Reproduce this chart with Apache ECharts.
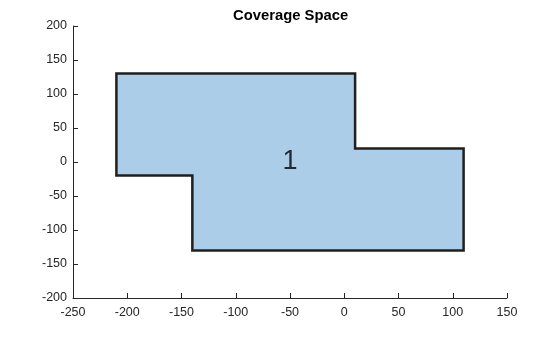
<!DOCTYPE html>
<html><head><meta charset="utf-8">
<script src="https://cdn.jsdelivr.net/npm/echarts@6/dist/echarts.min.js"></script>
<style>html,body{margin:0;padding:0;background:#fff}#c{width:560px;height:337px}</style>
</head><body><div id="c"></div>
<script>
const polygonX = [-210, 10, 10, 110, 110, -140, -140, -210];
const polygonY = [130, 130, 20, 20, -130, -130, -20, -20];
const regionLabels = ['1'];
const labelX = [-50];
const labelY = [0];
const xTicks = [-250, -200, -150, -100, -50, 0, 50, 100, 150];
const yTicks = [-200, -150, -100, -50, 0, 50, 100, 150, 200];

const chart = echarts.init(document.getElementById('c'));
const pts = polygonX.map((x, i) => [x, polygonY[i]]);
const font = 'Liberation Sans, Arial, sans-serif';
chart.setOption({
  animation: false,
  title: { text: 'Coverage Space', left: 228, top: 3,
    textStyle: { fontSize: 14.8, fontWeight: 'bold', color: '#000', fontFamily: font } },
  grid: { left: 73, right: 53, top: 26, bottom: 39 },
  xAxis: { type: 'value', min: xTicks[0], max: xTicks[xTicks.length-1], interval: 50,
    axisLine: { onZero: false, lineStyle: { color: '#262626', width: 1 } },
    axisTick: { inside: true, length: 5, lineStyle: { color: '#262626' } },
    axisLabel: { color: '#262626', fontSize: 12.5, fontFamily: font, margin: 8 },
    splitLine: { show: false } },
  yAxis: { type: 'value', min: yTicks[0], max: yTicks[yTicks.length-1], interval: 50,
    axisLine: { show: true, onZero: false, lineStyle: { color: '#262626', width: 1 } },
    axisTick: { show: true, inside: true, length: 5, lineStyle: { color: '#262626' } },
    axisLabel: { color: '#262626', fontSize: 12.5, fontFamily: font, margin: 6,
      padding: [1, 0, 0, 0] },
    splitLine: { show: false } },
  series: [{
    type: 'custom',
    data: [0],
    renderItem: function (params, api) {
      return { type: 'polygon', shape: { points: pts.map(p => api.coord(p)) },
        style: { fill: '#abcde8', stroke: '#1f1f1f', lineWidth: 2.5 } };
    },
    silent: true
  }, {
    type: 'scatter',
    data: labelX.map((x, i) => [x, labelY[i], regionLabels[i]]),
    symbolSize: 0,
    label: { show: true, position: 'inside', formatter: p => p.data[2],
      fontSize: 27, color: '#000', fontFamily: font },
    silent: true
  }]
});
</script></body></html>
